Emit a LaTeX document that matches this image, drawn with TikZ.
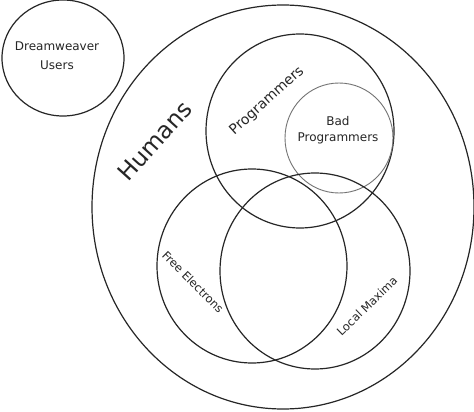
\documentclass[tikz,border=0pt]{standalone}
\usepackage{fontspec}
\setmainfont{DejaVu Sans}
\begin{document}
\begin{tikzpicture}[x=1pt,y=-1pt,
  setline/.style={draw=black!85,line width=1.2pt},
  thinline/.style={draw=black!55,line width=0.9pt},
  lbl/.style={inner sep=0pt,text=black!85,align=center}]
\useasboundingbox (0,0) rectangle (474,412);
\clip (0,0) rectangle (474,412);
\fill[white] (0,0) rectangle (474,412);
% sets
\draw[setline] (63,58) ellipse [x radius=61pt,y radius=58pt];
\draw[setline] (283,207) ellipse [x radius=191pt,y radius=202pt];
\draw[setline] (300,131) ellipse [x radius=94pt,y radius=97pt];
\draw[thinline] (339,138) ellipse [x radius=54pt,y radius=55pt];
\draw[setline] (252,266) ellipse [x radius=95pt,y radius=97pt];
\draw[setline] (315,271) ellipse [x radius=95pt,y radius=98pt];
% labels
\node[lbl,font=\fontsize{12}{19}\selectfont] (dw) at (57,56) {Dreamweaver\\Users};
\node[lbl,font=\fontsize{23.5}{27}\selectfont,rotate=48] (hu) at (155,141) {Humans};
\node[lbl,font=\fontsize{14}{17}\selectfont,rotate=42] (pr) at (267,101) {Programmers};
\node[lbl,font=\fontsize{12}{16}\selectfont] (bp) at (338,130) {Bad\\Programmers};
\node[lbl,font=\fontsize{11.5}{14}\selectfont,rotate=-45] (fe) at (193,282) {Free Electrons};
\node[lbl,font=\fontsize{11.5}{14}\selectfont,rotate=44] (lm) at (367,306) {Local Maxima};
\end{tikzpicture}
\end{document}
